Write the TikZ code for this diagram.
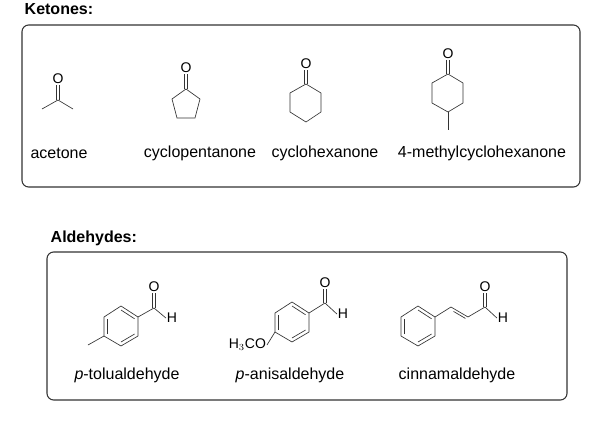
\documentclass[tikz,border=0pt]{standalone}
\usepackage{fontspec}
\setmainfont{Liberation Sans}
\usetikzlibrary{calc}
\begin{document}
\begin{tikzpicture}[x=0.75pt, y=-0.75pt]
	\tikzstyle{bond}=[line width=.5pt, black!80]
	\tikzstyle{atom}=[inner sep=.6pt, font=\fontsize{10.5}{12}\selectfont]
	\tikzstyle{lbl}=[font=\fontsize{12}{14}\selectfont]
	\tikzstyle{frame}=[draw=black!80, line width=.8pt, rounded corners=5pt]
	\useasboundingbox (0,0) rectangle (608,426);
		% titles and frames
		\node[lbl, anchor=west, font=\fontsize{12}{14}\selectfont\bfseries] (kt) at (20,9) {Ketones:};
		\node[lbl, anchor=west, font=\fontsize{12}{14}\selectfont\bfseries] (at) at (46,238) {Aldehydes:};
		\draw[frame] (22,25) rectangle (580,187);
		\draw[frame] (47,252) rectangle (567,400);
		
		%========================================================================
		% acetone
		\coordinate (a1) at (58,100);
		\coordinate (a2) at (42,109);
		\coordinate (a3) at (73,109);
		\node[atom] (aO) at (58,79) {O};
		\draw[bond] (a2) -- (a1) -- (a3);
		\draw[bond] ([xshift=-1pt]a1) -- ([xshift=-1pt]aO.south);
		\draw[bond] ([xshift=1pt]a1) -- ([xshift=1pt]aO.south);
		
		% cyclopentanone
		\coordinate (p1) at (186,89);
		\coordinate (p2) at (200,99);
		\coordinate (p3) at (195,118);
		\coordinate (p4) at (177,118);
		\coordinate (p5) at (172,99);
		\node[atom] (pO) at (186,68) {O};
		\draw[bond] (p1) -- (p2) -- (p3) -- (p4) -- (p5) -- cycle;
		\draw[bond] ([xshift=-1pt]p1) -- ([xshift=-1pt]pO.south);
		\draw[bond] ([xshift=1pt]p1) -- ([xshift=1pt]pO.south);
		
		% cyclohexanone
		\coordinate (h1) at (306,84);
		\coordinate (h2) at (321,93);
		\coordinate (h3) at (321,112);
		\coordinate (h4) at (306,122);
		\coordinate (h5) at (290,112);
		\coordinate (h6) at (290,93);
		\node[atom] (hO) at (306,64) {O};
		\draw[bond] (h1) -- (h2) -- (h3) -- (h4) -- (h5) -- (h6) -- cycle;
		\draw[bond] ([xshift=-1pt]h1) -- ([xshift=-1pt]hO.south);
		\draw[bond] ([xshift=1pt]h1) -- ([xshift=1pt]hO.south);
		
		% 4-methylcyclohexanone
		\coordinate (m1) at (448,74);
		\coordinate (m2) at (463,83);
		\coordinate (m3) at (463,103);
		\coordinate (m4) at (448,112);
		\coordinate (m5) at (432,103);
		\coordinate (m6) at (432,83);
		\coordinate (mMe) at (448,130);
		\node[atom] (mO) at (448,54) {O};
		\draw[bond] (m1) -- (m2) -- (m3) -- (m4) -- (m5) -- (m6) -- cycle;
		\draw[bond] (m4) -- (mMe);
		\draw[bond] ([xshift=-1pt]m1) -- ([xshift=-1pt]mO.south);
		\draw[bond] ([xshift=1pt]m1) -- ([xshift=1pt]mO.south);
		
		\node[lbl] (acetone) at (59,153) {acetone};
		\node[lbl] (cpone) at (200,153) {cyclopentanone};
		\node[lbl] (chone) at (325,153) {cyclohexanone};
		\node[lbl] (mchone) at (482,153) {4-methylcyclohexanone};
		
		%========================================================================
		% p-tolualdehyde
		\coordinate (t1) at (121,306);
		\coordinate (t2) at (138,317);
		\coordinate (t3) at (138,336);
		\coordinate (t4) at (121,346);
		\coordinate (t5) at (104,336);
		\coordinate (t6) at (104,317);
		\coordinate (tc) at (121,326);
		\coordinate (tC) at (154,308);
		\coordinate (tMe) at (88,345);
		\node[atom] (tO) at (154,287) {O};
		\node[atom] (tH) at (172,318) {H};
		\draw[bond] (t1) -- (t2) -- (t3) -- (t4) -- (t5) -- (t6) -- cycle;
		\foreach \a/\b in {t1/t2, t3/t4, t5/t6}
			\draw[bond] ($(\a)!.2!(tc)$) -- ($(\b)!.2!(tc)$);
		\draw[bond] (t5) -- (tMe);
		\draw[bond] (t2) -- (tC) -- (tH.west);
		\draw[bond] ([xshift=-1pt]tC) -- ([xshift=-1pt]tO.south);
		\draw[bond] ([xshift=1pt]tC) -- ([xshift=1pt]tO.south);
		
		% p-anisaldehyde
		\coordinate (n1) at (292,302);
		\coordinate (n2) at (309,313);
		\coordinate (n3) at (309,332);
		\coordinate (n4) at (292,342);
		\coordinate (n5) at (275,332);
		\coordinate (n6) at (275,313);
		\coordinate (nc) at (292,322);
		\coordinate (nC) at (325,303);
		\node[atom] (nO) at (325,283) {O};
		\node[atom] (nH) at (343,314) {H};
		\node[atom, anchor=east] (nOMe) at (267,345) {H$_3$CO};
		\draw[bond] (n1) -- (n2) -- (n3) -- (n4) -- (n5) -- (n6) -- cycle;
		\foreach \a/\b in {n1/n2, n3/n4, n5/n6}
			\draw[bond] ($(\a)!.2!(nc)$) -- ($(\b)!.2!(nc)$);
		\draw[bond] (n5) -- (nOMe.east);
		\draw[bond] (n2) -- (nC) -- (nH.west);
		\draw[bond] ([xshift=-1pt]nC) -- ([xshift=-1pt]nO.south);
		\draw[bond] ([xshift=1pt]nC) -- ([xshift=1pt]nO.south);
		
		% cinnamaldehyde
		\coordinate (c1) at (418,306);
		\coordinate (c2) at (435,317);
		\coordinate (c3) at (435,336);
		\coordinate (c4) at (418,346);
		\coordinate (c5) at (401,336);
		\coordinate (c6) at (401,317);
		\coordinate (cc) at (418,326);
		\coordinate (cA) at (451,307);
		\coordinate (cB) at (468,317);
		\coordinate (cC) at (485,307);
		\node[atom] (cO) at (485,287) {O};
		\node[atom] (cH) at (503,318) {H};
		\draw[bond] (c1) -- (c2) -- (c3) -- (c4) -- (c5) -- (c6) -- cycle;
		\foreach \a/\b in {c1/c2, c3/c4, c5/c6}
			\draw[bond] ($(\a)!.2!(cc)$) -- ($(\b)!.2!(cc)$);
		\draw[bond] (c2) -- (cA) -- (cB) -- (cC) -- (cH.west);
		\draw[bond] ([yshift=-2.2pt]$(cA)!.15!(cB)$) -- ([yshift=-2.2pt]$(cA)!.85!(cB)$);
		\draw[bond] ([xshift=-1pt]cC) -- ([xshift=-1pt]cO.south);
		\draw[bond] ([xshift=1pt]cC) -- ([xshift=1pt]cO.south);
		
		\node[lbl] (tol) at (127,375) {\textit{p}-tolualdehyde};
		\node[lbl] (anis) at (290,375) {\textit{p}-anisaldehyde};
		\node[lbl] (cinn) at (457,375) {cinnamaldehyde};
	\end{tikzpicture}
\end{document}
